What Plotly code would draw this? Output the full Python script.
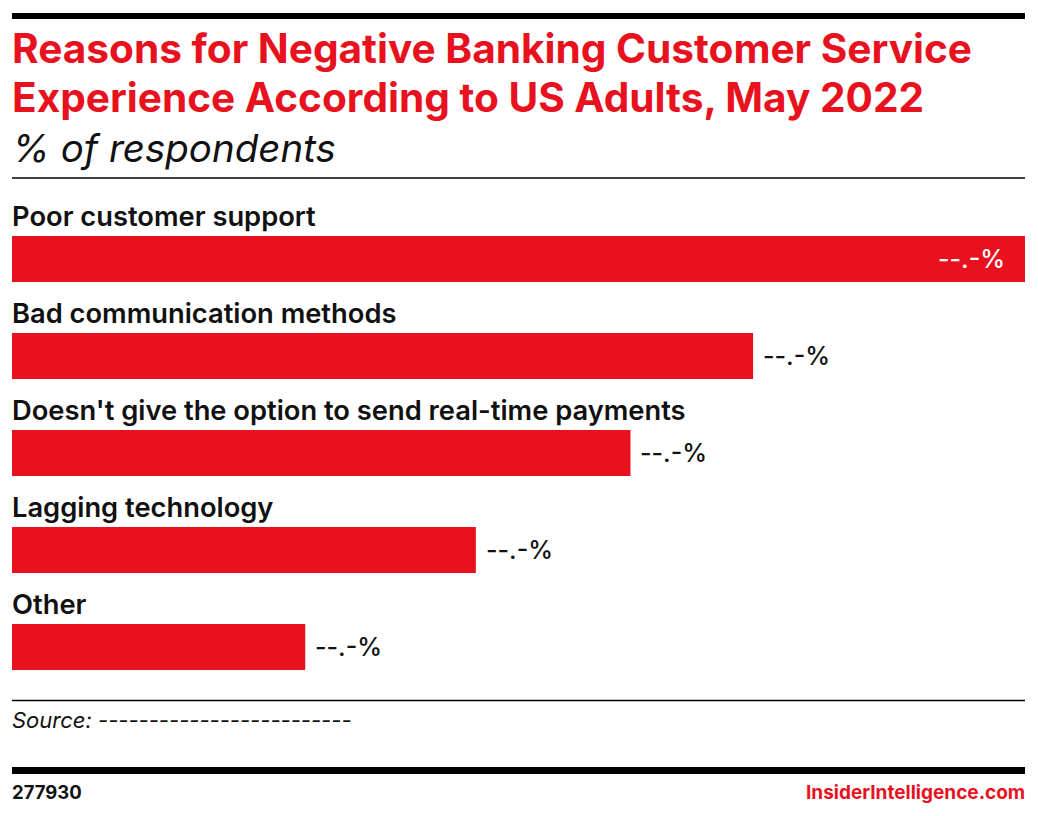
import plotly.graph_objects as go

categories = ["Poor customer support", "Bad communication methods",
              "Doesn't give the option to send real-time payments",
              "Lagging technology", "Other"]
values = [38.0, 27.8, 23.2, 17.4, 11.0]
value_labels = ["--.-%", "--.-%", "--.-%", "--.-%", "--.-%"]

RED = "#E8111E"
FONT = "Inter"
W, H = 1038, 816

def py(px):
    return 1 - px / H

def pxx(px):
    return px / W

idx = list(range(len(categories)))

fig = go.Figure()
fig.add_trace(go.Bar(
    x=values, y=idx, orientation="h",
    marker=dict(color=RED, line=dict(width=0)),
    width=0.474, hoverinfo="skip",
))

annotations = []
for i, (c, v, t) in enumerate(zip(categories, values, value_labels)):
    annotations.append(dict(
        x=0, y=i - 0.443, xref="x", yref="y", text=c, showarrow=False,
        xanchor="left", yanchor="middle", xshift=-2,
        font=dict(family=FONT, size=27.3, color="#111", weight=600)))
    if i == 0:
        annotations.append(dict(
            x=v, y=i, xref="x", yref="y", text=t, showarrow=False,
            xanchor="right", yanchor="middle", xshift=-18,
            font=dict(family=FONT, size=25, color="white", weight=500)))
    else:
        annotations.append(dict(
            x=v, y=i, xref="x", yref="y", text=t, showarrow=False,
            xanchor="left", yanchor="middle", xshift=8,
            font=dict(family=FONT, size=25, color="#111", weight=500)))

annotations += [
    dict(x=pxx(10), y=py(48), xref="paper", yref="paper", showarrow=False,
         xanchor="left", yanchor="middle",
         text="Reasons for Negative Banking Customer Service",
         font=dict(family=FONT, size=40.6, color=RED, weight=700)),
    dict(x=pxx(10), y=py(97), xref="paper", yref="paper", showarrow=False,
         xanchor="left", yanchor="middle",
         text="Experience According to US Adults, May 2022",
         font=dict(family=FONT, size=40.6, color=RED, weight=700)),
    dict(x=pxx(10), y=py(148), xref="paper", yref="paper", showarrow=False,
         xanchor="left", yanchor="middle", text="<i>% of respondents</i>",
         font=dict(family=FONT, size=38.5, color="#111", weight=400)),
    dict(x=pxx(10), y=py(720), xref="paper", yref="paper", showarrow=False,
         xanchor="left", yanchor="middle", text="<i>Source: -------------------------</i>",
         font=dict(family=FONT, size=22, color="#111")),
    dict(x=pxx(10), y=py(792), xref="paper", yref="paper", showarrow=False,
         xanchor="left", yanchor="middle", text="277930",
         font=dict(family=FONT, size=18.5, color="#111", weight=700)),
    dict(x=pxx(1027), y=py(792), xref="paper", yref="paper", showarrow=False,
         xanchor="right", yanchor="middle", text="InsiderIntelligence.com",
         font=dict(family=FONT, size=19, color=RED, weight=700)),
]

shapes = [
    dict(type="line", xref="paper", yref="paper", x0=pxx(12), x1=pxx(1025),
         y0=py(16), y1=py(16), line=dict(color="black", width=6)),
    dict(type="line", xref="paper", yref="paper", x0=pxx(12), x1=pxx(1025),
         y0=py(178), y1=py(178), line=dict(color="black", width=1.5)),
    dict(type="line", xref="paper", yref="paper", x0=pxx(12), x1=pxx(1025),
         y0=py(700.5), y1=py(700.5), line=dict(color="black", width=1.5)),
    dict(type="line", xref="paper", yref="paper", x0=pxx(12), x1=pxx(1025),
         y0=py(770.5), y1=py(770.5), line=dict(color="black", width=7)),
]

top = 259 - 48.5
bottom = 647 + 48.5
fig.update_layout(
    width=W, height=H, margin=dict(l=0, r=0, t=0, b=0),
    paper_bgcolor="white", plot_bgcolor="white", showlegend=False,
    xaxis=dict(domain=[pxx(12), pxx(1025)], range=[0, values[0]],
               visible=False, fixedrange=True),
    yaxis=dict(domain=[py(bottom), py(top)], range=[4.5, -0.5],
               visible=False, fixedrange=True),
    annotations=annotations, shapes=shapes,
)

fig.write_html("out.html", config={"displayModeBar": False})
